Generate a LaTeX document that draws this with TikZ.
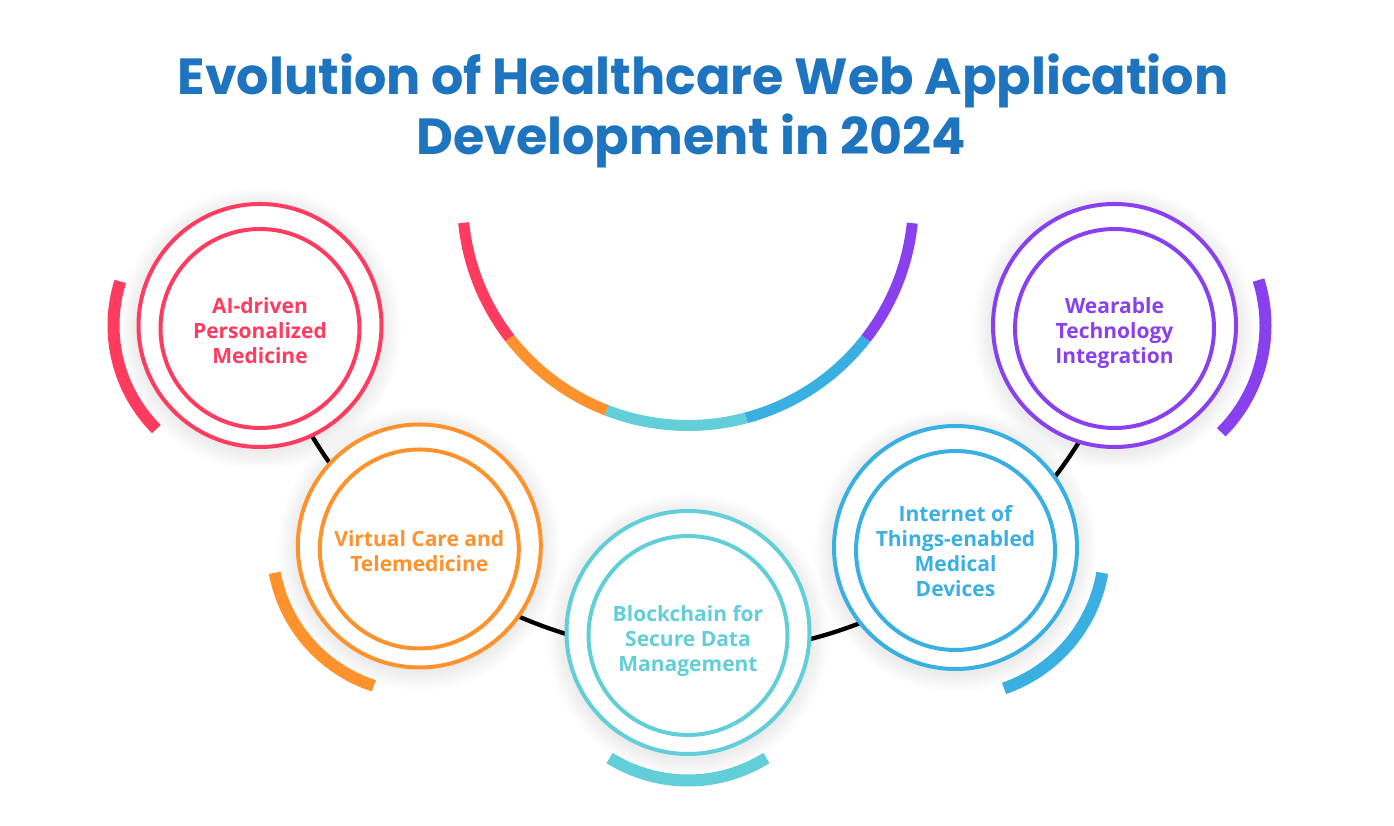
\documentclass[tikz,border=0pt]{standalone}
\usepackage{fontspec}
\newfontfamily\titlefont{Poppins}
\newfontfamily\labelfont{Open Sans}
\definecolor{cred}{RGB}{255,60,96}
\definecolor{corange}{RGB}{255,146,45}
\definecolor{cteal}{RGB}{98,206,216}
\definecolor{cblue}{RGB}{58,176,226}
\definecolor{cpurple}{RGB}{137,64,238}
\definecolor{ctitle}{RGB}{30,116,190}
\begin{document}
\begin{tikzpicture}[x=1pt,y=1pt,
  outerring/.style={circle, minimum size=243pt, inner sep=0pt, line width=4pt, fill=white, draw=#1},
  innerring/.style={circle, minimum size=199pt, inner sep=0pt, line width=4pt, draw=#1},
  label/.style={align=center, inner sep=0pt, text=#1, font=\labelfont\bfseries\fontsize{21}{25}\selectfont},
  thickarc/.style={line width=12pt, draw=#1},
  bigarc/.style={line width=11pt, draw=#1},
  titletext/.style={anchor=base, inner sep=0pt, text=ctitle, font=\titlefont\bfseries\fontsize{50.8}{60}\selectfont},
  link/.style={line width=4.3pt, draw=black}]
\useasboundingbox (0,0) rectangle (1394,826);
\fill[white] (0,0) rectangle (1394,826);

% title
\node[titletext] (t1) at (703,731) {Evolution of Healthcare Web Application};
\node[titletext] (t2) at (691,671) {Development in 2024};

% centres
\coordinate (cR) at (260,500.5);
\coordinate (cO) at (419.3,280);
\coordinate (cT) at (688,193.5);
\coordinate (cB) at (955.5,278.5);
\coordinate (cP) at (1114.5,500.5);
\coordinate (cA) at (697.4,622.5);
\coordinate (cTop) at (688,626);

% shadows
\foreach \c in {cR,cO,cT,cB,cP}{
  \foreach \k in {1,...,10}{
    \fill[black,opacity=0.008] ([yshift=-3pt]\c) circle[radius={121+2*\k}];
  }
}

% connector
\draw[link] (cA) ++(196:450) arc[start angle=196, end angle=344, radius=450];

% circles
\node[outerring=cred] (red) at (cR) {};
\node[outerring=corange] (orange) at (cO) {};
\node[outerring=cteal] (teal) at (cT) {};
\node[outerring=cblue] (blue) at (cB) {};
\node[outerring=cpurple] (purple) at (cP) {};

\node[innerring=cred] (redin) at ([yshift=-3pt]cR) {};
\node[innerring=corange] (orangein) at ([yshift=-3pt]cO) {};
\node[innerring=cteal] (tealin) at ([yshift=-3pt]cT) {};
\node[innerring=cblue] (bluein) at ([yshift=-3pt]cB) {};
\node[innerring=cpurple] (purplein) at ([yshift=-3pt]cP) {};

% labels
\node[label=cred] (lr) at (260,495.2) {AI-driven\\Personalized\\Medicine};
\node[label=corange] (lo) at (419.3,275.3) {Virtual Care and\\Telemedicine};
\node[label=cteal] (lt) at (688,184.7) {Blockchain for\\Secure Data\\Management};
\node[label=cblue] (lb) at (955.5,275.2) {Internet of\\Things-enabled\\Medical\\Devices};
\node[label=cpurple] (lp) at (1114.5,492.7) {Wearable\\Technology\\Integration};

% thick outer arcs
\draw[thickarc=cred] (cR) ++(162.5:146.5) arc[start angle=162.5, end angle=225, radius=146.5];
\draw[thickarc=corange] (cO) ++(190.5:147) arc[start angle=190.5, end angle=252, radius=147];
\draw[thickarc=cteal] (cT) ++(238:148) arc[start angle=238, end angle=302, radius=148];
\draw[thickarc=cblue] (cB) ++(-9.8:149) arc[start angle=-9.8, end angle=-71, radius=149];
\draw[thickarc=cpurple] (cP) ++(17.5:151) arc[start angle=17.5, end angle=-45, radius=151];

% big top arc
\draw[bigarc=cred] (cTop) ++(185.8:225.5) arc[start angle=185.8, end angle=217.8, radius=225.5];
\draw[bigarc=corange] (cTop) ++(217.8:225.5) arc[start angle=217.8, end angle=248.9, radius=225.5];
\draw[bigarc=cteal] (cTop) ++(248.9:225.5) arc[start angle=248.9, end angle=285, radius=225.5];
\draw[bigarc=cblue] (cTop) ++(285:225.5) arc[start angle=285, end angle=322.1, radius=225.5];
\draw[bigarc=cpurple] (cTop) ++(322.1:225.5) arc[start angle=322.1, end angle=354.1, radius=225.5];
\end{tikzpicture}
\end{document}
